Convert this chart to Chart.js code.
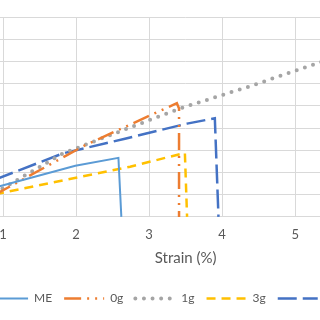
<!DOCTYPE html>
<html>
<head>
<meta charset="utf-8">
<script src="https://cdn.jsdelivr.net/npm/chart.js@4.4.1/dist/chart.umd.min.js"></script>
<style>
    html, body { margin: 0; padding: 0; background: #ffffff; }
    #frame { position: relative; width: 320px; height: 320px; overflow: hidden; }
    #chart { position: absolute; left: -130px; top: 0; }
</style>
</head>
<body>
<div id="frame">
    <canvas id="chart" width="585" height="320"></canvas>
</div>
<script>
// Series names
const seriesNames = ['ME', '0g', '1g', '3g', '5g'];

// Strain (%) values of every series
const meStrain = [0.89, 1.99, 2.58, 2.62];
const g0Strain = [0.89, 2.12, 3.38, 3.41, 3.41];
const g1Strain = [0.89, 1.81, 2.64, 3.42, 4.38, 5.34, 5.89];
const g3Strain = [0.89, 2.74, 3.49, 3.52];
const g5Strain = [0.89, 1.82, 2.67, 3.52, 3.90, 3.95];

// Stress values of every series
const meStress = [6.6, 11.5, 13.3, 0];
const g0Stress = [5.0, 16.1, 25.6, 24.4, 0];
const g1Stress = [5.4, 14.2, 19.5, 24.4, 29.4, 34.8, 37.8];
const g3Stress = [5.1, 11.3, 14.4, 0];
const g5Stress = [8.4, 14.3, 17.6, 21.0, 22.2, 0];

// Axis ticks
const strainTicks = [0, 1, 2, 3, 4, 5, 6, 7];
const stressTicks = [0, 5, 10, 15, 20, 25, 30, 35, 40, 45];

const textColor = '#595959';     // labels color
const gridColor = '#d9d9d9';     // grid color
const fontName = 'Lato';         // close to Calibri

/**
 * Join strain and stress into points
 * @param {number[]} xs strain values
 * @param {number[]} ys stress values
 * @returns list of {x, y}
 */
function toPoints(xs, ys) {
    var points = new Array();
    for (var i = 0; i < xs.length; ++i) {
        points.push({ x: xs[i], y: ys[i] });
    }
    return points;
}

/**
 * Build one line dataset
 */
function makeSeries(label, xs, ys, color, width, dash, cap) {
    return {
        label: label,
        data: toPoints(xs, ys),
        showLine: true,
        borderColor: color,
        backgroundColor: color,
        borderWidth: width,
        borderDash: dash,
        borderCapStyle: cap,
        pointRadius: 0,
        tension: 0,
    };
}

/**
 * Legend items drawn as short line samples with the series dash
 */
function legendLabels(chart) {
    return chart.data.datasets.map((ds, i) => ({
        text: ds.label,
        datasetIndex: i,
        strokeStyle: ds.borderColor,
        fillStyle: ds.borderColor,
        lineWidth: ds.borderWidth,
        lineDash: ds.borderDash,
        lineCap: ds.borderCapStyle,
        pointStyle: 'line',
        fontColor: textColor,
        hidden: false,
    }));
}

var datasets = [
    makeSeries(seriesNames[0], meStrain, meStress, '#5b9bd5', 2, [], 'butt'),
    makeSeries(seriesNames[1], g0Strain, g0Stress, '#ed7d31', 2.5, [17, 6, 2, 6, 2, 6], 'butt'),
    makeSeries(seriesNames[2], g1Strain, g1Stress, '#a5a5a5', 4, [0, 8.6], 'round'),
    makeSeries(seriesNames[3], g3Strain, g3Stress, '#ffc000', 2.5, [9, 6], 'butt'),
    makeSeries(seriesNames[4], g5Strain, g5Stress, '#4472c4', 2.5, [19, 6], 'butt'),
];

const config = {
    type: 'scatter',
    data: { datasets: datasets },
    options: {
        responsive: false,
        animation: false,
        devicePixelRatio: 1,
        layout: { padding: { top: 17, right: 0, bottom: 5.5, left: 0 } },
        plugins: {
            tooltip: { enabled: false },
            legend: {
                position: 'bottom',
                labels: {
                    usePointStyle: true,
                    pointStyle: 'line',
                    pointStyleWidth: 40,
                    boxHeight: 12,
                    padding: 12,
                    color: textColor,
                    font: { family: fontName, size: 12 },
                    generateLabels: legendLabels,
                }
            }
        },
        scales: {
            x: {
                type: 'linear',
                min: 0,
                max: 7,
                afterBuildTicks: (scale) => { scale.ticks = strainTicks.map(v => ({ value: v })); },
                grid: { color: gridColor, drawTicks: false },
                border: { color: gridColor },
                ticks: { padding: 10, color: textColor, font: { family: fontName, size: 13 } },
                title: {
                    display: true,
                    text: 'Strain (%)',
                    color: textColor,
                    font: { family: fontName, size: 15, lineHeight: 1 },
                    padding: { top: -2, bottom: 15 },
                }
            },
            y: {
                type: 'linear',
                min: 0,
                max: 45,
                afterBuildTicks: (scale) => { scale.ticks = stressTicks.map(v => ({ value: v })); },
                afterFit: (scale) => { scale.width = 60; },
                grid: { color: gridColor, drawTicks: false },
                border: { display: false },
                ticks: { padding: 8, color: textColor, font: { family: fontName, size: 13 } },
            }
        }
    }
};

new Chart(document.getElementById('chart'), config);
</script>
</body>
</html>
